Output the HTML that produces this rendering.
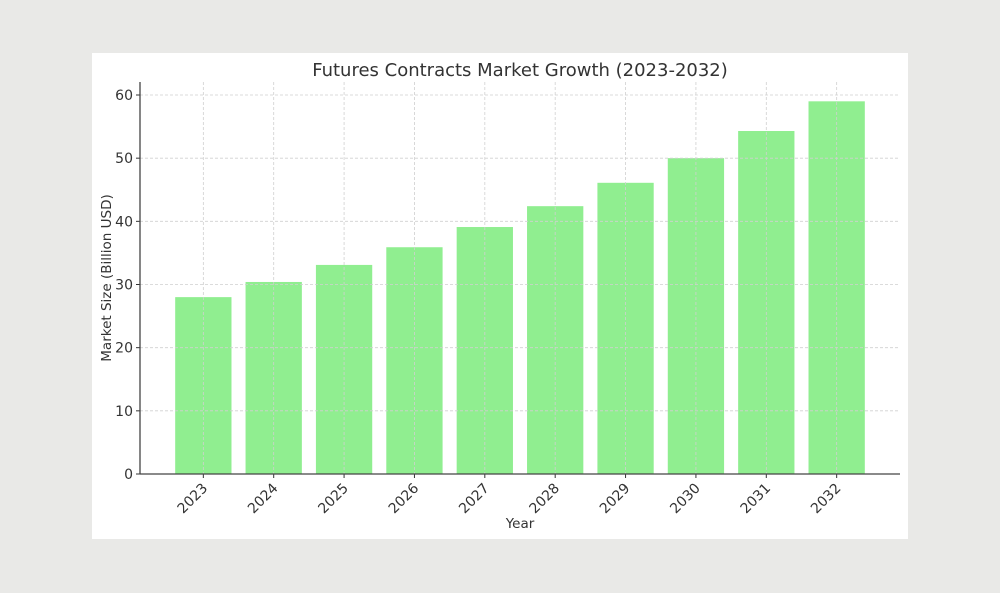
<!DOCTYPE html>
<html><head><meta charset="utf-8"><style>
html,body{margin:0;padding:0;background:#e9e9e7;width:1000px;height:593px;overflow:hidden}
svg{display:block;font-family:"DejaVu Sans","Liberation Sans",sans-serif}
</style></head><body>
<svg id="c" width="1000" height="593">
<rect x="92" y="53" width="816" height="486" fill="#fff"/>
<text x="520" y="76" font-size="18" fill="#333" text-anchor="middle">Futures Contracts Market Growth (2023-2032)</text>
<g id="grid"></g><g id="bars"></g><g id="axes"></g>
<text x="520" y="528" font-size="13.5" fill="#333" text-anchor="middle">Year</text>
<text transform="translate(111,278) rotate(-90)" font-size="13.5" fill="#333" text-anchor="middle">Market Size (Billion USD)</text>
</svg>
<script>
const years=["2023","2024","2025","2026","2027","2028","2029","2030","2031","2032"];
const values=[28.0,30.4,33.1,35.9,39.1,42.4,46.1,50.0,54.3,59.0];
const yTicks=[0,10,20,30,40,50,60];
const NS="http://www.w3.org/2000/svg";
const L=140,R=900,T=82,B=474;
const step=(R-L)/(years.length-1+1.8);
const xPos=i=>L+step*0.9+i*step;
const yPos=v=>B-v*(B-95)/60;
function mk(t,a,p){const e=document.createElementNS(NS,t);for(const k in a)e.setAttribute(k,a[k]);p.appendChild(e);return e;}
const grid=document.getElementById('grid'),bars=document.getElementById('bars'),axes=document.getElementById('axes');
years.forEach((y,i)=>{
 const b=mk('rect',{x:xPos(i)-step*0.4,y:yPos(values[i]),width:step*0.8,height:B-yPos(values[i]),fill:'#90ee90'},bars);
 
 
 const g=mk('line',{x1:xPos(i),x2:xPos(i),y1:T,y2:B,stroke:'#d0d0d0','stroke-width':0.8,'stroke-dasharray':'3,2'},axes);
 
 
 mk('line',{x1:xPos(i),x2:xPos(i),y1:B,y2:B+4,stroke:'#333'},axes);
 const t=mk('text',{transform:`translate(${xPos(i)+5},${B+15}) rotate(-45)`,'font-size':14,fill:'#333','text-anchor':'end'},axes);
 t.textContent=y;
 
 
});
yTicks.forEach(v=>{
 const g=mk('line',{x1:L,x2:R,y1:yPos(v),y2:yPos(v),stroke:'#d0d0d0','stroke-width':0.8,'stroke-dasharray':'3,2'},axes);
 
 
 mk('line',{x1:L-4,x2:L,y1:yPos(v),y2:yPos(v),stroke:'#333'},axes);
 const t=mk('text',{x:L-7,y:yPos(v)+5,'font-size':14,fill:'#333','text-anchor':'end'},axes);
 t.textContent=v;
 
 
});
const ya=mk('line',{x1:L,x2:L,y1:T,y2:B,stroke:'#444','stroke-width':1.3},axes);


const xa=mk('line',{x1:L,x2:R,y1:B,y2:B,stroke:'#444','stroke-width':1.3},axes);


</script>
</body></html>
